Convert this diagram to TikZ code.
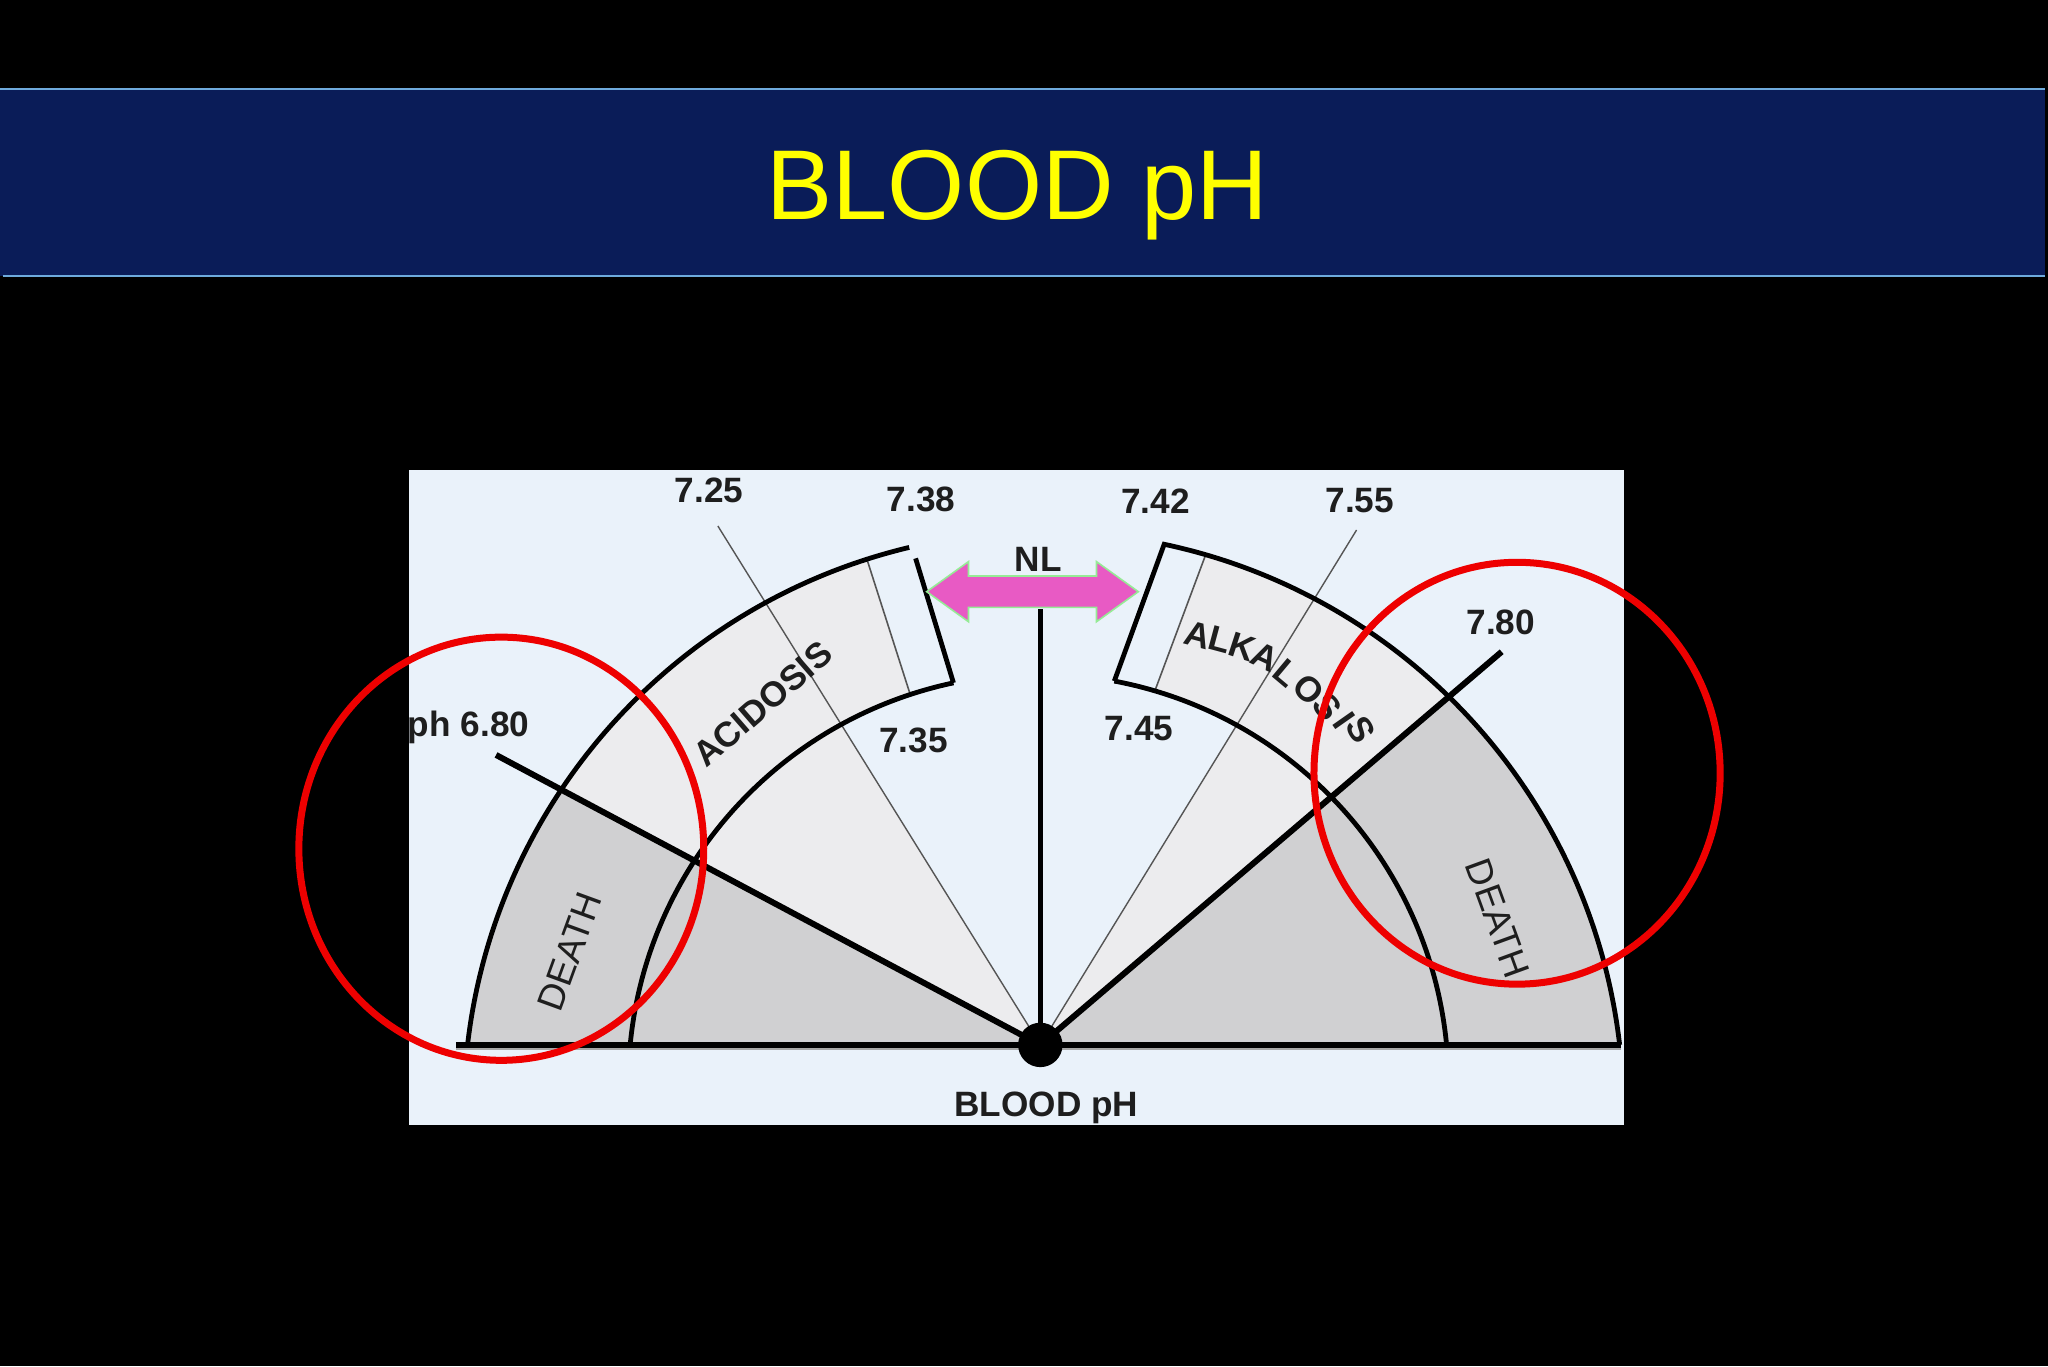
\documentclass[tikz,border=0pt]{standalone}
\usepackage{fontspec}
\setmainfont{Liberation Sans}
\usetikzlibrary{calc}
\definecolor{navy}{RGB}{10,28,88}
\definecolor{bline}{RGB}{110,170,220}
\definecolor{panel}{RGB}{234,242,250}
\definecolor{lgray}{RGB}{236,236,238}
\definecolor{mgray}{RGB}{208,208,210}
\definecolor{pinkarrow}{RGB}{232,90,196}
\definecolor{greenedge}{RGB}{150,235,150}
\definecolor{redring}{RGB}{238,0,0}
\definecolor{labelc}{RGB}{30,30,30}
\definecolor{thinc}{RGB}{85,85,85}
\tikzset{
  arcline/.style={line width=2.4pt, black},
  radial/.style={line width=3pt, black},
  thinline/.style={line width=0.7pt, thinc},
  bandline/.style={line width=0.8pt, thinc},
  lbl/.style={inner sep=0pt, anchor=base, text=labelc, font=\fontsize{17.6}{20}\selectfont\bfseries},
  rot/.style={inner sep=0pt, anchor=center, text=labelc, font=\fontsize{17.6}{20}\selectfont\bfseries},
  deathlbl/.style={inner sep=0pt, anchor=center, text=labelc, font=\fontsize{18.5}{20}\selectfont},
  ring/.style={line width=3.5pt, redring},
}
\begin{document}
\begin{tikzpicture}[x=0.65306pt,y=-0.65306pt]
\useasboundingbox (0,0) rectangle (1568,1046);
\fill[black] (0,0) rectangle (1568,1046);
% banner
\fill[navy] (0,68.5) rectangle (1566,211.5);
\draw[bline, line width=1pt] (0,68.5) -- (1566,68.5);
\draw[bline, line width=1pt] (2,211.5) -- (1566,211.5);
\node[inner sep=0pt, anchor=base, text={rgb,255:red,255;green,255;blue,0}, font=\fontsize{49.6}{56}\selectfont] (title) at (779,168) {BLOOD pH};
% panel
\fill[panel] (313,360) rectangle (1243,861);
\coordinate (P) at (796.5,800);
\coordinate (O1) at (799,851);
\coordinate (O2) at (795,830);
% fills
\fill[mgray] (P) -- ($(O1)+(-146.29:444)$) arc[start angle=-146.29, end angle=-173.4, radius=444] -- cycle;
\fill[mgray] (P) -- ($(O1)+(-45.67:444)$) arc[start angle=-45.67, end angle=-6.6, radius=444] -- cycle;
\fill[lgray] (P) -- ($(O1)+(-146.29:444)$) arc[start angle=-146.29, end angle=-107.74, radius=444]
   -- ($(O2)+(-108.21:314)$) arc[start angle=-108.21, end angle=-118.71, radius=314] -- cycle;
\fill[lgray] (P) -- ($(O2)+(-61.05:314)$) arc[start angle=-61.05, end angle=-73.5, radius=314]
   -- ($(O1)+(-73.77:444)$) arc[start angle=-73.77, end angle=-45.67, radius=444] -- cycle;
% thin lines
\draw[thinline] (549.6,402.7) -- (P);
\draw[thinline] (1038.6,405.8) -- (P);
\draw[bandline] ($(O1)+(-107.74:444)$) -- ($(O2)+(-108.21:314)$);
\draw[bandline] ($(O1)+(-73.77:444)$) -- ($(O2)+(-73.5:314)$);
% arcs
\draw[arcline] ($(O1)+(-173.4:444)$) arc[start angle=-173.4, end angle=-103.4, radius=444];
\draw[arcline] (701,427.5) -- ($(O2)+(-101.95:314)$);
\draw[arcline] ($(O2)+(-174.52:314)$) arc[start angle=-174.52, end angle=-101.95, radius=314];
\draw[arcline] ($(O2)+(-79.33:314)$) -- ($(O1)+(-78:444)$) arc[start angle=-78, end angle=-6.6, radius=444];
\draw[arcline] ($(O2)+(-79.33:314)$) arc[start angle=-79.33, end angle=-5.48, radius=314];
% radial lines
\draw[radial] (P) -- (379.8,578);
\draw[radial] (P) -- (1149.7,499);
\draw[line width=2.8pt] (P) -- (796.5,466);
% baseline
\draw[gray!70, line width=1.5pt] (349,803) -- (1241,803);
\draw[line width=3pt] (349,800) -- (1241,800);
\fill (P) circle[radius=17];
% double arrow
\draw[greenedge, line width=0.8pt, fill=pinkarrow] (709.5,453) -- (741.5,430) -- (741.5,441) -- (839.5,441) -- (839.5,430) -- (871.5,453) -- (839.5,476) -- (839.5,465) -- (741.5,465) -- (741.5,476) -- cycle;
% labels
\node[lbl] (l725) at (543,385) {7.25};
\node[lbl] (l738) at (705.3,391.8) {7.38};
\node[lbl] (l742) at (884.6,393) {7.42};
\node[lbl] (l755) at (1041,392) {7.55};
\node[lbl] (l780) at (1149,486) {7.80};
\node[lbl] (l745) at (872,566.6) {7.45};
\node[lbl] (l735) at (699.3,576) {7.35};
\node[lbl, anchor=base west] (l680) at (312,564) {ph 6.80};
\node[lbl] (lnl) at (795,437.7) {NL};
\node[lbl] (lblood) at (801,855) {BLOOD pH};
\node[rot, rotate=41] (acid) at (584,539) {ACIDOSIS};
\node[deathlbl, rotate=70] (death1) at (436,728.6) {DEATH};
\node[deathlbl, rotate=-70] (death2) at (1146.8,703) {DEATH};
\node[rot, rotate=-15] (k1) at (917.4,486.2) {A};
\node[rot, rotate=-15] (k2) at (933.9,490) {L};
\node[rot, rotate=-18] (k3) at (951.3,495.1) {K};
\node[rot, rotate=-25] (k4) at (968.7,502.8) {A};
\node[rot, rotate=-40] (k5) at (984.6,515.5) {L};
\node[rot, rotate=-45] (k6) at (1002.1,528.3) {O};
\node[rot, rotate=-50] (k7) at (1016.4,541) {S};
\node[rot, rotate=-55] (k8) at (1029.1,551.3) {I};
\node[rot, rotate=-60] (k9) at (1041.8,558.9) {S};
% red rings
\draw[ring] (383.8,649.8) ellipse[x radius=155, y radius=162];
\draw[ring] (1161.5,592) ellipse[x radius=155.5, y radius=161.5];
\end{tikzpicture}
\end{document}
